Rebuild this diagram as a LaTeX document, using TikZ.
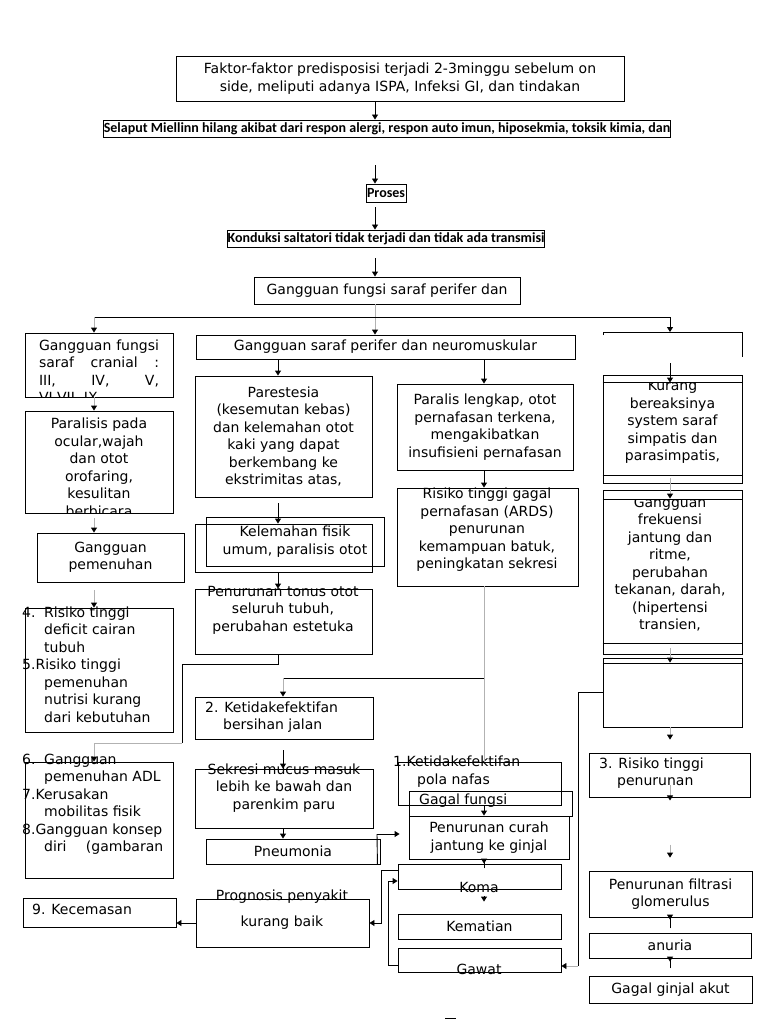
\documentclass[tikz,border=0pt]{standalone}
\usepackage{fontspec}
\setmainfont{DejaVu Sans}
\newfontfamily\tebalfont{Carlito}
\usetikzlibrary{arrows.meta}

\begin{document}
\begin{tikzpicture}[x=1pt,y=-1pt,
    kotak/.style={draw, line width=0.9pt, inner sep=0pt, align=center, font=\fontsize{14}{17.5}\selectfont},
    tebal/.style={kotak, font=\tebalfont\bfseries\fontsize{14}{15}\selectfont},
    teks/.style={inner sep=0pt, align=center, font=\fontsize{14}{17.5}\selectfont},
    garis/.style={line width=0.9pt},
    panah/.style={garis, -{Triangle[length=5pt,width=6pt]}},
    abu/.style={garis, draw=black!30, -{Triangle[length=5pt,width=6pt,color=black]}}]
      \useasboundingbox (0,0) rectangle (768,1024);
      \coordinate (sumbu) at (375,0);
      \coordinate (kiri) at (94,0);
      \coordinate (kanan) at (670,0);
      \coordinate (kolom1) at (278,0);
      \coordinate (kolom2) at (484,0);
      \coordinate (kolom3) at (283,0);
      \coordinate (cabang) at (0,317);
      \coordinate (belok) at (0,678);

      \node[kotak, minimum width=448pt, minimum height=45pt] (faktor) at (400,78.5) {Faktor-faktor predisposisi terjadi 2-3minggu sebelum on\\side, meliputi adanya ISPA, Infeksi GI, dan tindakan};
      \node[tebal, minimum width=562pt, minimum height=17pt] (selaput) at (387,128.5) {Selaput Miellinn hilang akibat dari respon alergi, respon auto imun, hiposekmia, toksik kimia, dan};
      \node[tebal, minimum width=40pt, minimum height=18pt] (proses) at (386,193) {Proses};
      \node[tebal, minimum width=314pt, minimum height=17pt] (konduksi) at (386,238.5) {Konduksi saltatori tidak terjadi dan tidak ada transmisi};
      \node[kotak, minimum width=266pt, minimum height=27pt] (fungsi) at (387,290.5) {Gangguan fungsi saraf perifer dan};
      \node[kotak, minimum width=379pt, minimum height=24pt] (neuro) at (385.5,347) {Gangguan saraf perifer dan neuromuskular};

      \node[kotak, minimum width=148pt, minimum height=64pt] (cranial) at (99,365) {};
      \node[kotak, minimum width=148pt, minimum height=102pt] (paralisis) at (99,462) {};
      \node[kotak, minimum width=147pt, minimum height=49pt] (pemenuhan) at (110.5,557.5) {Gangguan\\pemenuhan};
      \node[kotak, minimum width=148pt, minimum height=124pt] (risiko45) at (99,670) {};
      \node[kotak, minimum width=148pt, minimum height=116pt] (adl) at (99,820) {};
      \node[kotak, minimum width=153pt, minimum height=29pt] (cemas) at (99.5,912.5) {};

      \node[kotak, minimum width=177pt, minimum height=121pt] (parestesia) at (283.5,436.5) {Parestesia\\(kesemutan kebas)\\dan kelemahan otot\\kaki yang dapat\\berkembang ke\\ekstrimitas atas,};
      \node[kotak, minimum width=177pt, minimum height=48pt] (lemahA) at (283.5,548) {};
      \node[kotak, minimum width=178pt, minimum height=49pt] (lemahB) at (295,541.5) {Kelemahan fisik\\umum, paralisis otot};
      \node[kotak, minimum width=177pt, minimum height=65pt] (tonus) at (283.5,621.5) {};
      \node[kotak, minimum width=178pt, minimum height=42pt] (efektif2) at (284,718) {};
      \node[kotak, minimum width=178pt, minimum height=59pt] (sekresi) at (284,798.5) {};
      \node[kotak, minimum width=174pt, minimum height=25pt] (pneumonia) at (293,851.5) {Pneumonia};
      \node[kotak, minimum width=173pt, minimum height=48pt] (prognosis) at (282.5,923) {};

      \node[kotak, minimum width=176pt, minimum height=86pt] (paralis) at (485,427) {Paralis lengkap, otot\\pernafasan terkena,\\mengakibatkan\\insufisieni pernafasan};
      \node[kotak, minimum width=181pt, minimum height=98pt] (gagal) at (487.5,537) {};
      \node[kotak, minimum width=163pt, minimum height=43pt] (efektif1) at (479.5,783.5) {};
      \node[kotak, minimum width=163pt, minimum height=25pt] (fungsi2) at (490.5,803.5) {};
      \node[kotak, minimum width=160pt, minimum height=43pt] (curah) at (489,837.5) {Penurunan curah\\jantung ke ginjal};
      \node[kotak, minimum width=163pt, minimum height=25pt] (koma) at (479.5,876.5) {};
      \node[kotak, minimum width=163pt, minimum height=25pt] (kematian) at (479.5,926.5) {Kematian};
      \node[kotak, minimum width=163pt, minimum height=24pt] (gawat) at (479.5,960) {};

      \node[kotak, minimum width=139pt, minimum height=108pt] (kurang) at (672.5,429) {};
      \node[kotak, minimum width=139pt, minimum height=164pt] (frekuensi) at (672.5,572) {};
      \node[kotak, minimum width=139pt, minimum height=69pt] (kosong) at (672.5,692.5) {};
      \node[kotak, minimum width=161pt, minimum height=44pt] (risiko3) at (669.5,775) {};
      \node[kotak, minimum width=163pt, minimum height=46pt] (filtrasi) at (670.5,894) {Penurunan filtrasi\\glomerulus};
      \node[kotak, minimum width=162pt, minimum height=25pt] (anuria) at (670,945.5) {anuria};
      \node[kotak, minimum width=163pt, minimum height=27pt] (ginjal) at (670.5,989.5) {Gagal ginjal akut};

      \draw[garis] ([yshift=-8pt]kurang.north west) -- ([yshift=-8pt]kurang.north east);
      \draw[garis] ([yshift=8pt]kurang.south west) -- ([yshift=8pt]kurang.south east);
      \draw[garis] ([yshift=-10pt]frekuensi.north west) -- ([yshift=-10pt]frekuensi.north east);
      \draw[garis] ([yshift=11pt]frekuensi.south west) -- ([yshift=11pt]frekuensi.south east);
      \draw[garis] ([yshift=-6pt]kosong.north west) -- ([yshift=-6pt]kosong.north east);

      \begin{scope}
        \clip (cranial.north west) rectangle (cranial.south east);
        \node[teks] at (99,372) {\makebox[120pt][s]{Gangguan fungsi}\\\makebox[120pt][s]{saraf cranial :}\\\makebox[120pt][s]{III, IV, V,}\\\makebox[120pt][l]{VI,VII, IX}};
      \end{scope}
      \begin{scope}
        \clip (paralisis.north west) rectangle (paralisis.south east);
        \node[teks] at (99,467.5) {Paralisis pada\\ocular,wajah\\dan otot\\orofaring,\\kesulitan\\berbicara};
      \end{scope}
      \begin{scope}
        \clip ([yshift=-8pt]kurang.north west) rectangle ([yshift=8pt]kurang.south east);
        \node[teks] at (672.5,422) {Kurang\\bereaksinya\\system saraf\\simpatis dan\\parasimpatis,};
      \end{scope}
      \begin{scope}
        \clip ([yshift=-10pt]frekuensi.north west) rectangle ([yshift=11pt]frekuensi.south east);
        \node[teks] at (670,564) {Gangguan\\frekuensi\\jantung dan\\ritme,\\perubahan\\tekanan, darah,\\(hipertensi\\transien,};
      \end{scope}

      \node[teks, anchor=west, align=left] at (22,664.5) {\makebox[22pt][l]{4.}Risiko tinggi\\\hspace*{22pt}deficit cairan\\\hspace*{22pt}tubuh\\5.Risiko tinggi\\\hspace*{22pt}pemenuhan\\\hspace*{22pt}nutrisi kurang\\\hspace*{22pt}dari kebutuhan};
      \node[teks, anchor=west, align=left] at (22,804.5) {\makebox[22pt][l]{6.}Gangguan\\\hspace*{22pt}pemenuhan ADL\\7.Kerusakan\\\hspace*{22pt}mobilitas fisik\\8.Gangguan konsep\\\hspace*{22pt}\makebox[119pt][s]{diri (gambaran}};
      \node[teks, anchor=west] at (32,909) {9. Kecemasan};
      \node[teks] at (283,610) {Penurunan tonus otot\\seluruh tubuh,\\perubahan estetuka};
      \node[teks, anchor=west, align=left] at (205,717) {2. Ketidakefektifan\\\hspace*{18pt}bersihan jalan};
      \node[teks] at (284,788) {Sekresi mucus masuk\\lebih ke bawah dan\\parenkim paru};
      \node[teks] at (282,910) {Prognosis penyakit\\[8.5pt]kurang baik};
      \node[teks] at (487,530) {Risiko tinggi gagal\\pernafasan (ARDS)\\penurunan\\kemampuan batuk,\\peningkatan sekresi};
      \node[teks, anchor=west, align=left] at (393,771.5) {1.Ketidakefektifan\\\hspace*{24pt}pola nafas};
      \node[teks, anchor=west] at (419,801) {Gagal fungsi};
      \node[teks] at (479,887) {Koma};
      \node[teks] at (479,969) {Gawat};
      \node[teks, anchor=west, align=left] at (599,773) {3. Risiko tinggi\\\hspace*{18pt}penurunan};

      \draw[panah] (faktor.south -| sumbu) -- (selaput.north -| sumbu);
      \draw[panah, shorten <=28pt] (selaput.south -| sumbu) -- (proses.north -| sumbu);
      \draw[panah, shorten <=5pt] (proses.south -| sumbu) -- (konduksi.north -| sumbu);
      \draw[panah, shorten <=11pt] (konduksi.south -| sumbu) -- (fungsi.north -| sumbu);
      \draw[abu] (fungsi.south -| sumbu) -- (neuro.north -| sumbu);
      \draw[garis] (cabang -| kiri) -- (cabang -| kanan);
      \draw[abu] (cabang -| kiri) -- (cranial.north -| kiri);
      \coordinate (kurung) at (603,332);
      \coordinate (kurung2) at (742,357);
      \draw[panah] (cabang -| kanan) -- (kurung -| kanan);
      \draw[garis] ([yshift=-3pt]kurung) -- (kurung) -| (kurung2);
      \coordinate (ujung) at (670,363);
      \draw[panah, shorten >=-8pt] (ujung) -- (kurang.north -| kanan);

      \draw[abu] (cranial.south -| kiri) -- (paralisis.north -| kiri);
      \draw[abu, shorten <=5pt] (paralisis.south -| kiri) -- (pemenuhan.north -| kiri);
      \draw[abu, shorten <=8pt] (pemenuhan.south -| kiri) -- (risiko45.north -| kiri);

      \draw[panah] (neuro.south -| kolom1) -- (parestesia.north -| kolom1);
      \draw[panah] (neuro.south -| kolom2) -- (paralis.north -| kolom2);
      \draw[panah, shorten <=6pt] (parestesia.south -| kolom1) -- (lemahA.north -| kolom1);
      \draw[panah] (lemahA.south -| kolom1) -- (tonus.north -| kolom1);
      \coordinate (siku1) at (182,664);
      \coordinate (siku2) at (182,743);
      \draw[garis] (tonus.south -| kolom1) |- (siku1) -- (siku2);
      \draw[abu] (siku2) -| (adl.north -| kiri);

      \draw[panah] (paralis.south -| kolom2) -- (gagal.north -| kolom2);
      \draw[garis, draw=black!30] (gagal.south -| kolom2) -- (efektif1.north -| kolom2);
      \draw[garis] (belok -| kolom2) -- (belok -| kolom3);
      \draw[abu] (belok -| kolom3) -- (efektif2.north -| kolom3);
      \draw[panah, shorten <=11pt] (efektif2.south -| kolom3) -- (sekresi.north -| kolom3);
      \draw[panah] (sekresi.south -| kolom3) -- (pneumonia.north -| kolom3);
      \coordinate (t1) at (377,834);
      \draw[garis] ([xshift=-3pt]pneumonia.south east) -- (t1);
      \draw[panah] (t1) -- ([xshift=-9pt]curah.west |- t1);
      \draw[panah] (efektif1.south -| kolom2) -- (curah.north -| kolom2);
      \draw[panah, shorten <=-9pt] (curah.south -| kolom2) -- (koma.north -| kolom2);
      \draw[panah, shorten <=7pt, shorten >=12pt] (koma.south -| kolom2) -- (kematian.north -| kolom2);
      \draw[panah] ([yshift=6.5pt]koma.west) -- ++(-16,0) |- (prognosis.east);
      \draw[panah] ([yshift=-5pt]gawat.west) -- ++(-9,0) |- ([yshift=-4.5pt]koma.west);
      \coordinate (t2) at (578,966);
      \draw[garis] (kosong.west) -| (t2);
      \draw[abu] (t2) -- (gawat.east |- t2);
      \draw[panah] (prognosis.west) -- (cemas.east |- prognosis.west);

      \draw[abu, shorten <=-5pt, shorten >=-9pt] (kurang.south -| kanan) -- (frekuensi.north -| kanan);
      \draw[abu, shorten <=-6pt, shorten >=-5pt] (frekuensi.south -| kanan) -- (kosong.north -| kanan);
      \draw[abu, shorten >=13pt] (kosong.south -| kanan) -- (risiko3.north -| kanan);
      \path (risiko3.south -| kanan) coordinate (r3);
      \draw[abu] ([yshift=12pt]r3) -- ([yshift=-3pt]r3);
      \path (filtrasi.north -| kanan) coordinate (f3);
      \draw[abu] ([yshift=26pt]f3) -- ([yshift=13pt]f3);
      \draw[panah, shorten <=-11pt, shorten >=13pt] (filtrasi.south -| kanan) -- (anuria.north -| kanan);
      \draw[panah, shorten <=-10pt, shorten >=14pt] (anuria.south -| kanan) -- (ginjal.north -| kanan);
      \coordinate (strip) at (445,1018);
      \draw[garis] (strip) -- ++(11,0);
    \end{tikzpicture}
\end{document}
